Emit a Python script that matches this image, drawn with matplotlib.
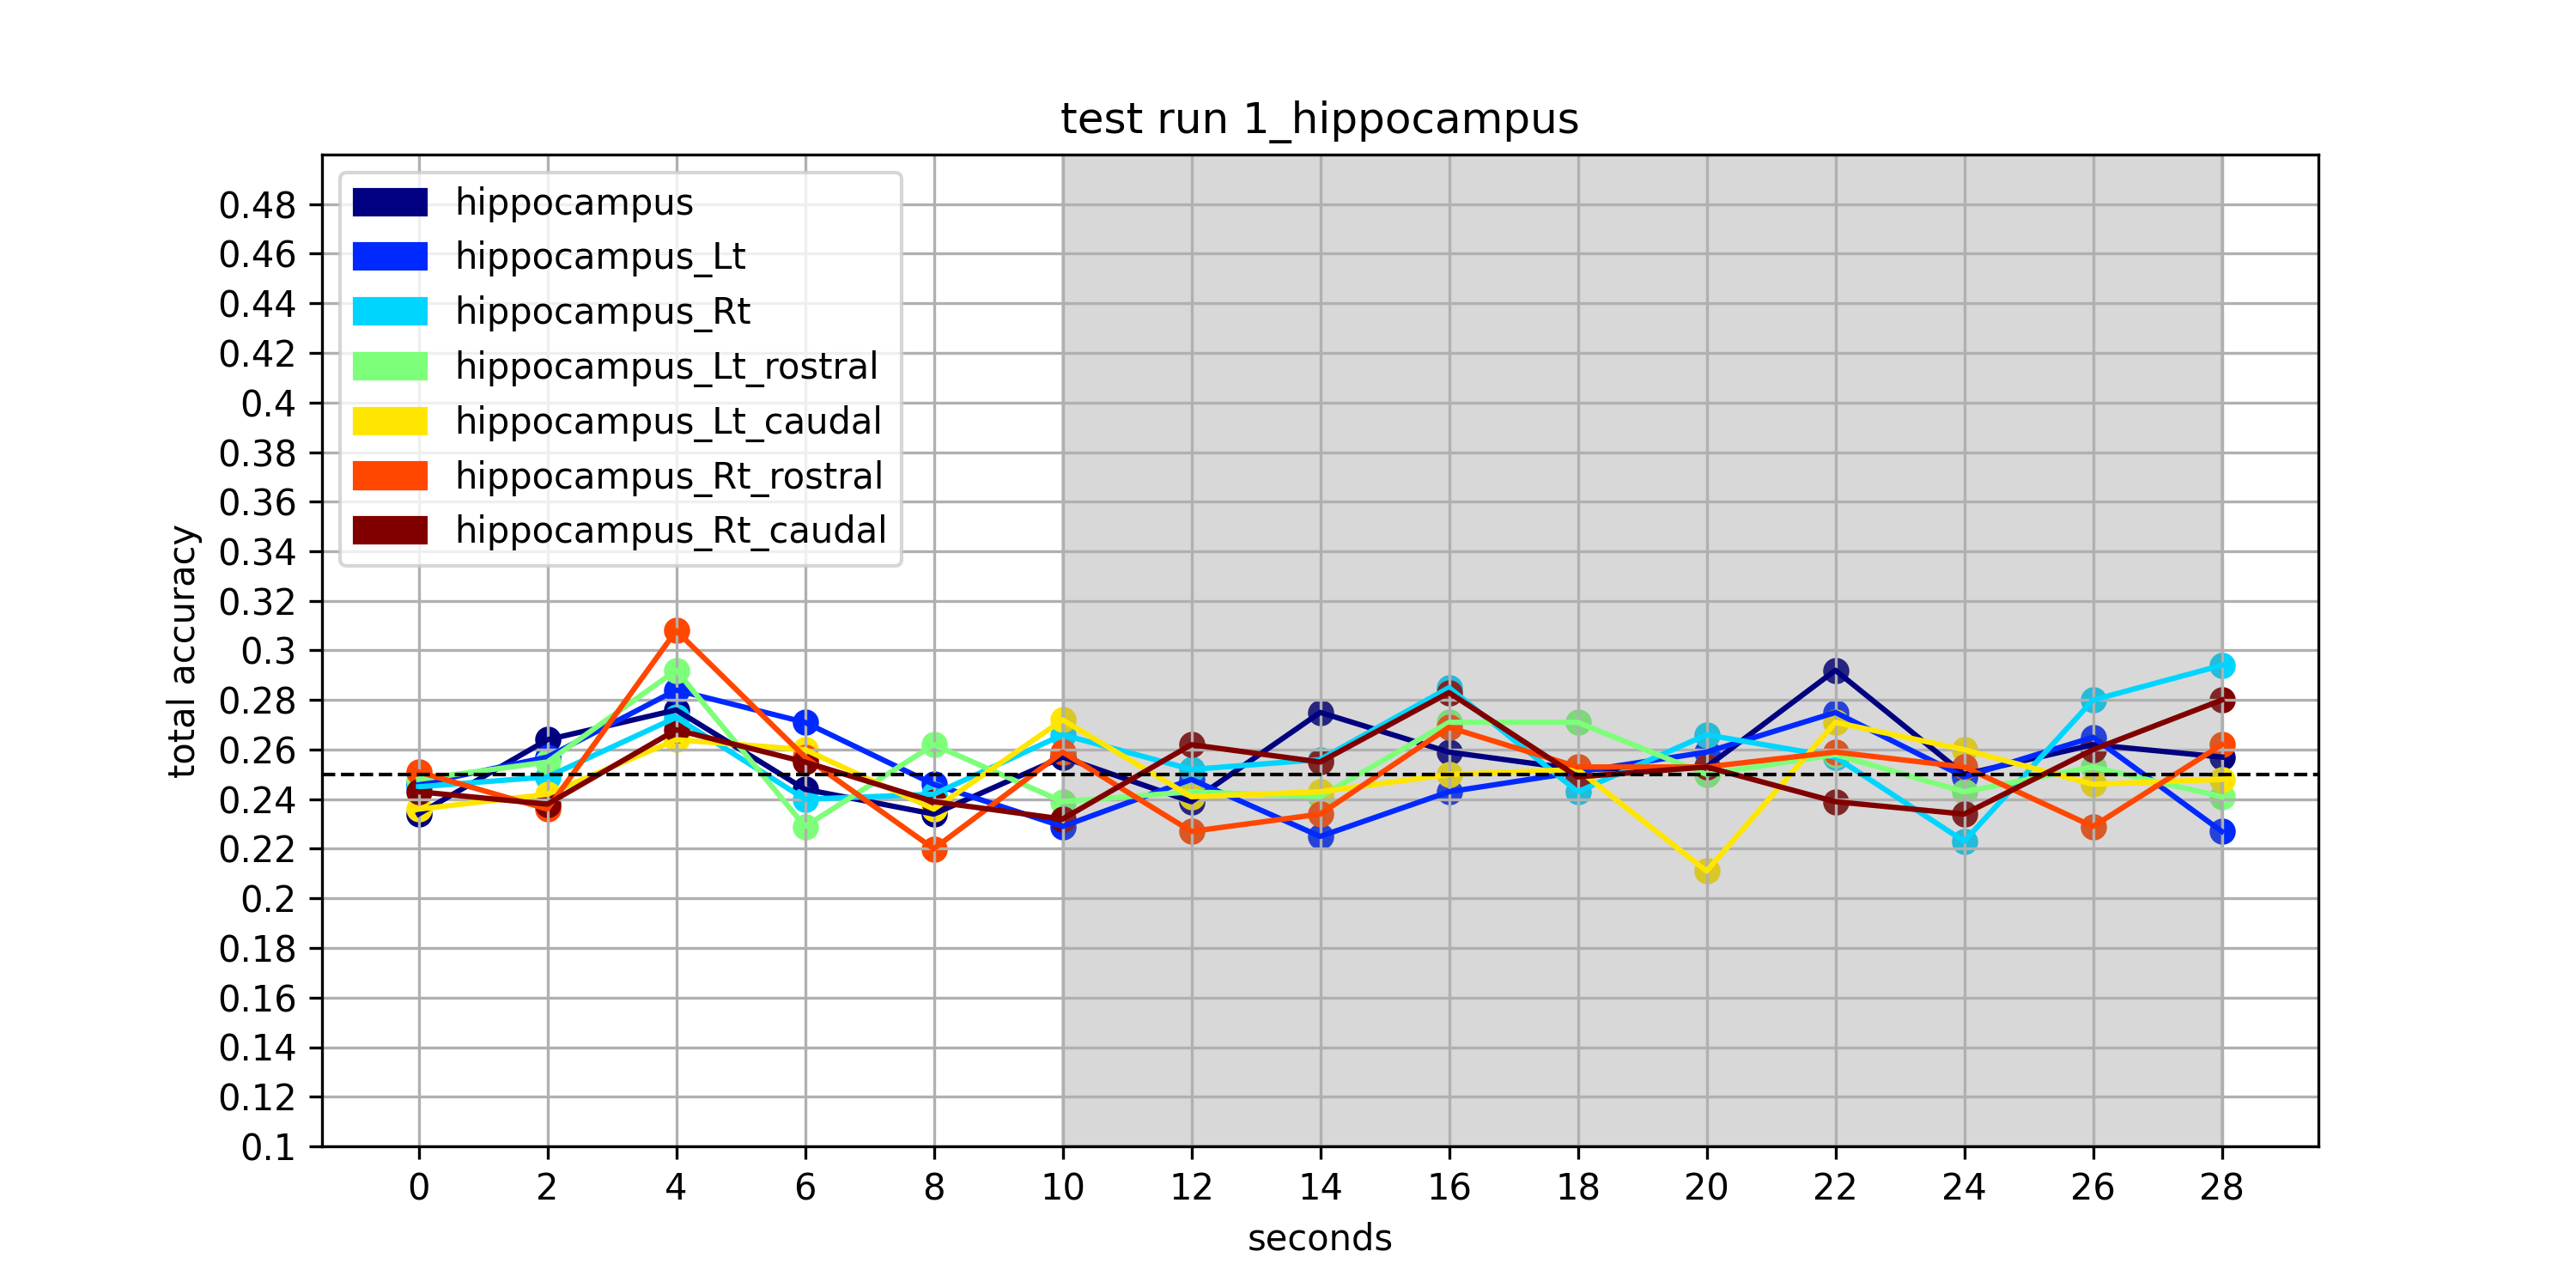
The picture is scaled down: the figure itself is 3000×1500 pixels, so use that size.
import matplotlib
matplotlib.use('Agg')
import matplotlib.pyplot as plt
import matplotlib.patches as mpatches
import numpy as np

seconds = list(range(0, 30, 2))
regions = ['hippocampus', 'hippocampus_Lt', 'hippocampus_Rt', 'hippocampus_Lt_rostral',
           'hippocampus_Lt_caudal', 'hippocampus_Rt_rostral', 'hippocampus_Rt_caudal']

hippocampus = [0.234, 0.264, 0.276, 0.244, 0.234, 0.257, 0.239, 0.275, 0.259, 0.252, 0.253, 0.292, 0.250, 0.262, 0.257]
hippocampus_Lt = [0.246, 0.257, 0.284, 0.271, 0.246, 0.229, 0.248, 0.225, 0.243, 0.251, 0.259, 0.275, 0.249, 0.265, 0.227]
hippocampus_Rt = [0.245, 0.249, 0.273, 0.240, 0.242, 0.266, 0.252, 0.256, 0.285, 0.243, 0.266, 0.257, 0.223, 0.280, 0.294]
hippocampus_Lt_rostral = [0.248, 0.255, 0.292, 0.229, 0.262, 0.239, 0.243, 0.241, 0.271, 0.271, 0.250, 0.258, 0.243, 0.253, 0.241]
hippocampus_Lt_caudal = [0.236, 0.242, 0.264, 0.260, 0.236, 0.272, 0.241, 0.243, 0.250, 0.252, 0.211, 0.271, 0.260, 0.246, 0.248]
hippocampus_Rt_rostral = [0.251, 0.236, 0.308, 0.257, 0.220, 0.259, 0.227, 0.234, 0.269, 0.253, 0.253, 0.259, 0.253, 0.229, 0.262]
hippocampus_Rt_caudal = [0.243, 0.238, 0.268, 0.255, 0.239, 0.232, 0.262, 0.255, 0.283, 0.249, 0.253, 0.239, 0.234, 0.260, 0.280]

all_values = [hippocampus, hippocampus_Lt, hippocampus_Rt, hippocampus_Lt_rostral,
              hippocampus_Lt_caudal, hippocampus_Rt_rostral, hippocampus_Rt_caudal]

colors = plt.cm.jet(np.linspace(0, 1, len(regions)))

fig, ax = plt.subplots(figsize=(10, 5), dpi=300)

for vals, c in zip(all_values, colors):
    ax.scatter(seconds, vals, color=c, s=40)
    ax.plot(seconds, vals, color=c)

# shaded task period drawn over the markers
ax.axvspan(10, 28, color='gray', alpha=0.3)
ax.axhline(0.25, color='k', linestyle='--', linewidth=1)

yticks = np.arange(0.1, 0.5, 0.02)
ax.set_yticks(yticks)
ax.set_yticklabels([str(round(y, 2)) for y in yticks])
ax.set_ylim(0.1, 0.5)
ax.set_xticks(seconds)
ax.set_xlim(-1.5, 29.5)
ax.grid(True)

handles = [mpatches.Patch(color=c, label=r) for c, r in zip(colors, regions)]
ax.legend(handles=handles, loc='upper left')

ax.set_xlabel('seconds')
ax.set_ylabel('total accuracy')
ax.set_title('test run 1_hippocampus')

plt.savefig('out.png')
